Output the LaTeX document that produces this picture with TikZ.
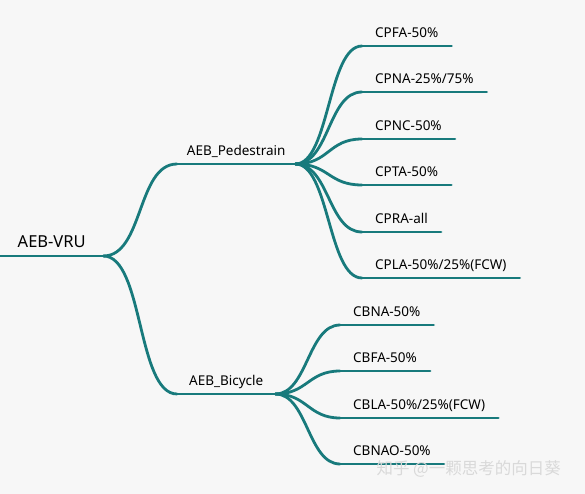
\documentclass[tikz,border=0pt]{standalone}
\usepackage{fontspec}
\setmainfont{Noto Sans}
\newfontfamily\cjkfont{Noto Sans CJK SC}
\usetikzlibrary{positioning}
\definecolor{mapteal}{RGB}{24,122,124}
\definecolor{mapbg}{RGB}{247,247,247}

\tikzset{
  branch/.style={draw=mapteal, line width=2.8pt, line cap=round},
  topic/.style={anchor=south west, inner xsep=0pt, inner ysep=8pt, text depth=0pt, font=\fontsize{16.5}{18}\selectfont},
  subtopic/.style={anchor=south west, inner xsep=0pt, inner ysep=8pt, text depth=0pt, font=\fontsize{13.5}{15}\selectfont},
  leaf/.style={anchor=south west, inner xsep=13pt, inner ysep=8pt, text depth=0pt, font=\fontsize{13.5}{15}\selectfont},
}

\begin{document}
\begin{tikzpicture}[x=1pt, y=-1pt]

\fill[mapbg] (0,0) rectangle (585,494);
\useasboundingbox (0,0) rectangle (585,494);

% root and the two groups
\node[topic, minimum width=103pt] (vru) at (0,256) {AEB-VRU};
\node[subtopic, minimum width=118pt] (ped) at (177,164) {AEB\_Pedestrain};
\node[subtopic, minimum width=98pt] (bic) at (177,394) {AEB\_Bicycle};

% pedestrian cases
\node[leaf] (cpfa) at (362,46) {CPFA-50\%};
\node[leaf] (cpna) at (362,92) {CPNA-25\%/75\%};
\node[leaf] (cpnc) at (362,139) {CPNC-50\%};
\node[leaf] (cpta) at (362,185) {CPTA-50\%};
\node[leaf] (cpra) at (362,232) {CPRA-all};
\node[leaf] (cpla) at (362,278) {CPLA-50\%/25\%(FCW)};

% bicycle cases
\node[leaf] (cbna) at (340,325) {CBNA-50\%};
\node[leaf] (cbfa) at (340,371) {CBFA-50\%};
\node[leaf] (cbla) at (340,418) {CBLA-50\%/25\%(FCW)};
\node[leaf] (cbnao) at (340,464) {CBNAO-50\%};

% underlines
\foreach \n in {vru,ped,bic,cpfa,cpna,cpnc,cpta,cpra,cpla,cbna,cbfa,cbla,cbnao}
  \draw[branch] (\n.south west) -- (\n.south east);

% curved connectors
\foreach \n in {ped,bic}
  \draw[branch] (vru.south east) .. controls +(40,0) and +(-40,0) .. (\n.south west);
\foreach \n in {cpfa,cpna,cpnc,cpta,cpra,cpla}
  \draw[branch] (ped.south east) .. controls +(34,0) and +(-34,0) .. (\n.south west);
\foreach \n in {cbna,cbfa,cbla,cbnao}
  \draw[branch] (bic.south east) .. controls +(32,0) and +(-32,0) .. (\n.south west);

% watermark
\node[text=gray!30, font=\cjkfont\fontsize{16.5}{18}\selectfont, anchor=west] (wm) at (373,469) {知乎 @一颗思考的向日葵};

\end{tikzpicture}
\end{document}
